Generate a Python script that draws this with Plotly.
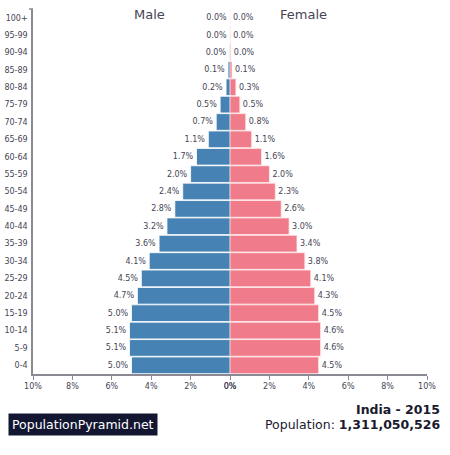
import plotly.graph_objects as go

ages = ["0-4", "5-9", "10-14", "15-19", "20-24", "25-29", "30-34", "35-39",
        "40-44", "45-49", "50-54", "55-59", "60-64", "65-69", "70-74", "75-79",
        "80-84", "85-89", "90-94", "95-99", "100+"]
male = [5.0, 5.1, 5.1, 5.0, 4.7, 4.5, 4.1, 3.6, 3.2, 2.8, 2.4, 2.0, 1.7, 1.1,
        0.7, 0.5, 0.2, 0.1, 0.03, 0.005, 0.001]
female = [4.5, 4.6, 4.6, 4.5, 4.3, 4.1, 3.8, 3.4, 3.0, 2.6, 2.3, 2.0, 1.6, 1.1,
          0.8, 0.5, 0.3, 0.1, 0.04, 0.01, 0.001]
ticks = [0, 2, 4, 6, 8, 10]
title = "India - 2015"
population = "1,311,050,526"

FONT = "DejaVu Sans"
TXT = "#454555"
AX = "#8a8a95"

fig = go.Figure()
fig.add_trace(go.Bar(
    y=ages, x=male, orientation="h", xaxis="x", yaxis="y",
    marker=dict(color="#4682b4", line=dict(color="rgba(255,255,255,0.8)", width=1)),
    text=[f"{v:.1f}%" for v in male], textposition="outside",
    textfont=dict(size=8, color=TXT, family=FONT), cliponaxis=False,
    hoverinfo="skip", name="Male"))
fig.add_trace(go.Bar(
    y=ages, x=female, orientation="h", xaxis="x2", yaxis="y",
    marker=dict(color="#f07b8a", line=dict(color="rgba(255,235,238,0.8)", width=1)),
    text=[f"{v:.1f}%" for v in female], textposition="outside",
    textfont=dict(size=8, color=TXT, family=FONT), cliponaxis=False,
    hoverinfo="skip", name="Female"))

axis_common = dict(
    tickvals=ticks, ticktext=[f"{t}%" for t in ticks],
    ticks="outside", ticklen=4, tickcolor=AX, tickwidth=1,
    showline=True, linecolor=AX, linewidth=1.5, showgrid=False, zeroline=False,
    tickfont=dict(size=8, color=TXT, family=FONT), fixedrange=True,
    automargin=False,
)
fig.update_layout(
    width=450, height=455,
    margin=dict(l=33, r=23, t=9, b=81),
    paper_bgcolor="white", plot_bgcolor="white",
    showlegend=False, bargap=0.04,
    font=dict(family=FONT, color=TXT),
    xaxis=dict(domain=[0, 0.5], range=[10, 0], anchor="y", **axis_common),
    xaxis2=dict(domain=[0.5, 1], range=[0, 10], anchor="y", **axis_common),
    yaxis=dict(categoryorder="array", categoryarray=ages, range=[-0.5, 20.5],
               showline=True, linecolor=AX, linewidth=1.5, ticks="",
               showgrid=False, anchor="x", ticklabelstandoff=2, automargin=False,
               fixedrange=True,
               tickfont=dict(size=8, color=TXT, family=FONT)),
    shapes=[dict(type="line", xref="paper", yref="paper", x0=-0.01, x1=0,
                 y0=1, y1=1, line=dict(color=AX, width=1.5))],
    annotations=[
        dict(text="Male", x=0.25, y=0.984, xref="paper", yref="paper",
             yanchor="middle", showarrow=False,
             font=dict(size=13, color=TXT, family=FONT)),
        dict(text="Female", x=0.75, y=0.984, xref="paper", yref="paper",
             yanchor="middle", showarrow=False,
             font=dict(size=13, color=TXT, family=FONT)),
        dict(text=f"<b>{title}</b>", x=1.039, y=-0.0986, xref="paper", yref="paper",
             xanchor="right", yanchor="middle", showarrow=False,
             font=dict(size=12.5, color="#1a1a2e", family=FONT)),
        dict(text=f"Population: <b>{population}</b>", x=1.039, y=-0.137,
             xref="paper", yref="paper", xanchor="right", yanchor="middle",
             showarrow=False, font=dict(size=12.5, color="#1a1a2e", family=FONT)),
        dict(text="PopulationPyramid.net", x=-0.0635, y=-0.137, xref="paper",
             yref="paper", xanchor="left", yanchor="middle", showarrow=False,
             bgcolor="#131630", borderpad=3,
             font=dict(size=12.5, color="white", family=FONT)),
    ],
)

fig.write_html("out.html", config={"displayModeBar": False},
               post_script="document.body.style.margin='0';")
